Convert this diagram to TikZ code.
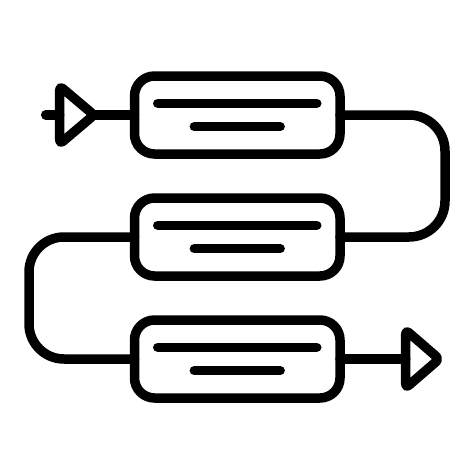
\documentclass[tikz,border=0pt]{standalone}
\begin{document}
\begin{tikzpicture}[x=1pt,y=-1pt,line width=9.5pt,line cap=round,line join=round,
  stepbox/.style={draw,rectangle,rounded corners=20pt,minimum width=205.5pt,minimum height=78pt,inner sep=0pt,outer sep=0pt},
  bar/.style={line width=9.5pt,line cap=round},
  tri/.style={rounded corners=4pt,line join=round}]
\useasboundingbox (0,0) rectangle (474,474);
\node[stepbox] (b1) at (237.25,115) {};
\node[stepbox] (b2) at (237.25,237) {};
\node[stepbox] (b3) at (237.25,359) {};
\foreach \b in {b1,b2,b3}{
  \draw[bar] ([xshift=-79.5pt,yshift=11.7pt]\b.center) -- ([xshift=79.5pt,yshift=11.7pt]\b.center);
  \draw[bar] ([xshift=-42.9pt,yshift=-11.7pt]\b.center) -- ([xshift=42.9pt,yshift=-11.7pt]\b.center);
}
% start
\coordinate (s) at (45.7,115);
\coordinate (t1) at (59.7,115);
\coordinate (tip1) at (94,115);
\draw (s) -- (t1);
\draw (tip1) -- (b1.west);
\draw[tri] ([yshift=29pt]t1) -- (tip1) -- ([yshift=-29pt]t1) -- cycle;
% right loop
\coordinate (r1) at (445,115);
\coordinate (r2) at (445,237);
\draw[rounded corners=36pt] (b1.east) -- (r1) -- (r2) -- (b2.east);
% left loop
\coordinate (l1) at (29,237);
\coordinate (l2) at (29,359);
\draw[rounded corners=35pt] (b2.west) -- (l1) -- (l2) -- (b3.west);
% end
\coordinate (t2) at (405.7,359);
\coordinate (tip2) at (439.2,359);
\draw (b3.east) -- (t2);
\draw[tri] ([yshift=29pt]t2) -- (tip2) -- ([yshift=-29pt]t2) -- cycle;
\end{tikzpicture}
\end{document}
